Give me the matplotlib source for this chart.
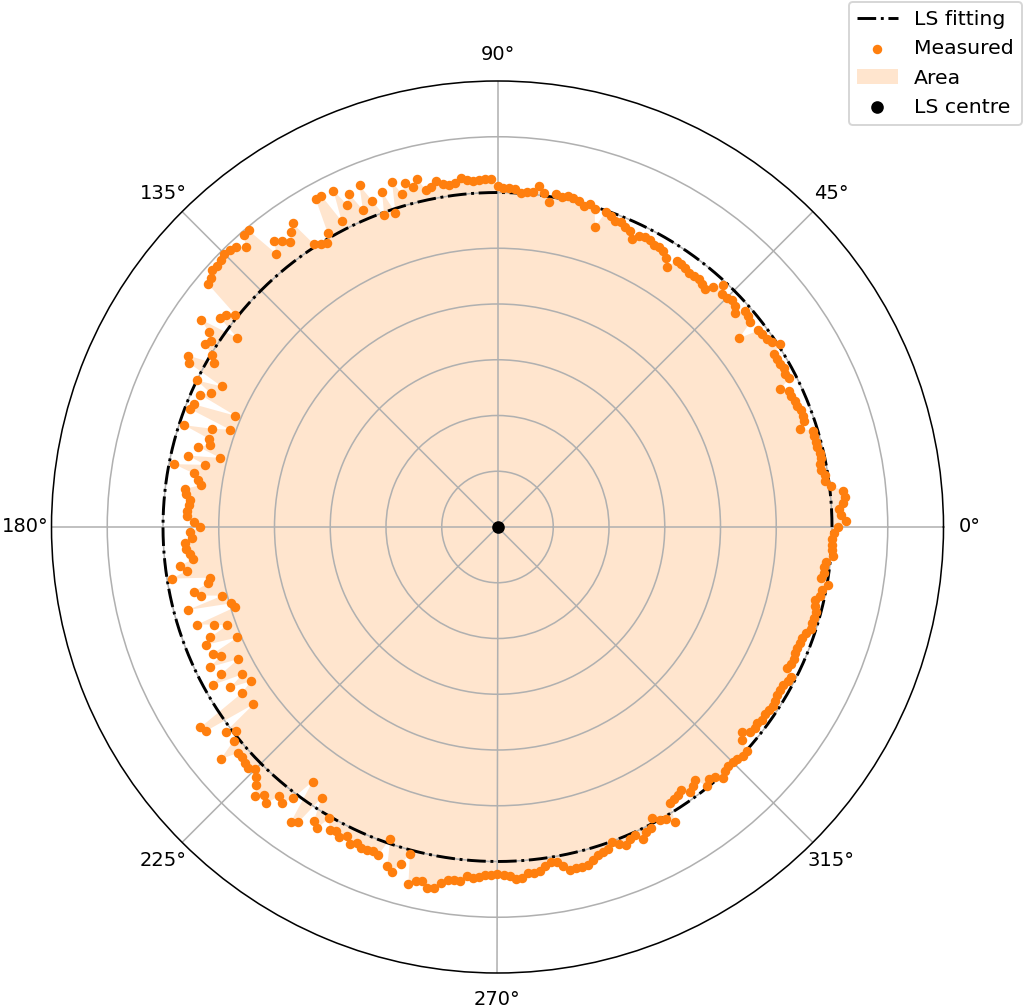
import numpy as np
import matplotlib
matplotlib.use("Agg")
import matplotlib.pyplot as plt

# 最小二乘拟合圆半径（任意单位，网格间距 56）
ls_radius = 336
ls_centre = (0.0, 0.0)

# 测量角度（度），每 1° 一个点
angles_deg = list(range(360))

# 各测点相对拟合圆的偏差（与半径同单位）
deviation = [
    6, 14, 9, 8, 12, 14, 13, 2, -4, -3,
    -6, -6, -4, -4, -5, -5, -5, -5, -17, -10,
    -9, -9, -12, -11, -13, -13, -20, -7, -9, -7,
    -8, -8, -8, 2, -4, -6, -7, -8, -28, -9,
    -7, -6, -15, -10, -8, -10, -11, -4, -12, -19,
    -17, -15, -16, -16, -15, -14, -14, -24, -17, -13,
    -11, -12, -10, -9, -11, -17, -10, -9, -6, -7,
    -4, -1, -19, -2, 2, -2, 2, 3, 4, 2,
    4, -5, 3, 9, 2, 2, 0, 4, 5, 5,
    7, 14, 14, 13, 12, 14, 17, 12, 11, 13,
    17, 12, 10, 23, 16, 22, 12, 26, -4, 20,
    -3, 15, 34, 10, 30, 21, 40, 9, 41, 41,
    5, -3, -1, 3, 32, 26, 18, 24, 28, 17,
    53, 52, 42, 49, 51, 52, 50, 49, 50, 45,
    43, 3, 10, 13, -13, 27, 14, 7, 10, -1,
    -7, 19, 15, -25, 0, -18, -9, -50, -7, -5,
    -50, -33, -5, -33, -36, -25, -49, -17, -36, -5,
    -26, -31, -35, -20, -21, -26, -25, -24, -24, -31,
    -37, -27, -29, -22, -22, -26, -28, -15, -21, -5,
    -43, -40, -24, -30, -51, -14, -58, -60, -19, -35,
    -47, -27, -20, -52, -23, -29, -15, -44, -22, -9,
    -40, -23, -44, -30, 24, 21, -33, 6, -3, 5,
    27, 10, 10, 11, 12, 8, 13, 19, 28, 21,
    26, 12, 16, 5, -20, 26, 22, -12, 12, 17,
    2, 12, 10, 14, 9, 15, 12, 14, 14, 13,
    15, -5, 22, 26, 16, 4, 34, 29, 28, 33,
    32, 26, 22, 21, 22, 16, 17, 16, 14, 14,
    13, 14, 15, 18, 17, 13, 13, 12, 8, 5,
    6, 11, 16, 16, 16, 16, 12, 9, 7, 6,
    1, 5, 8, 5, 3, 10, 5, 3, -5, 0,
    3, 10, -9, -10, -11, -14, -7, -10, -14, -1,
    -5, -3, 3, -1, -2, -2, -1, 1, 1, -10,
    -16, -9, -8, -9, -7, -8, -7, -6, -7, -8,
    -8, -8, -6, -5, -13, -11, -10, -11, -11, -10,
    -10, -8, -5, -6, -5, -5, -7, -9, -5, -4,
    1, -7, -5, -6, -4, 2, 1, 0, 0, 2,
]

# 径向网格
r_grid = [56, 112, 168, 224, 280, 336, 392]
r_max = 448


theta = np.deg2rad(angles_deg)
r_meas = ls_radius + np.array(deviation)

fig = plt.figure(figsize=(1025 / 140, 1007 / 140), dpi=140)
ax = fig.add_axes([51.5 / 1025, 34 / 1007, 892 / 1025, 892 / 1007], projection="polar")

# 拟合圆
t_circle = np.linspace(0, 2 * np.pi, 721)
ax.plot(t_circle, np.full_like(t_circle, ls_radius), "-.", color="black", label="LS fitting")

# 测量点与包围面积
ax.scatter(theta, r_meas, s=15, color="C1", label="Measured", zorder=3)
ax.fill(theta, r_meas, color="C1", alpha=0.2, lw=0, label="Area")

# 拟合圆心
ax.scatter([ls_centre[0]], [ls_centre[1]], color="black", s=30, label="LS centre", zorder=4)

ax.set_rlim(0, r_max)
ax.set_rticks(r_grid)
ax.set_yticklabels([])
ax.tick_params(axis="x", pad=3)

ax.legend(loc="upper right", bbox_to_anchor=(0.997, 0.998),
          bbox_transform=fig.transFigure, borderaxespad=0, fontsize=10.5)

fig.savefig("out.png", dpi=140)
